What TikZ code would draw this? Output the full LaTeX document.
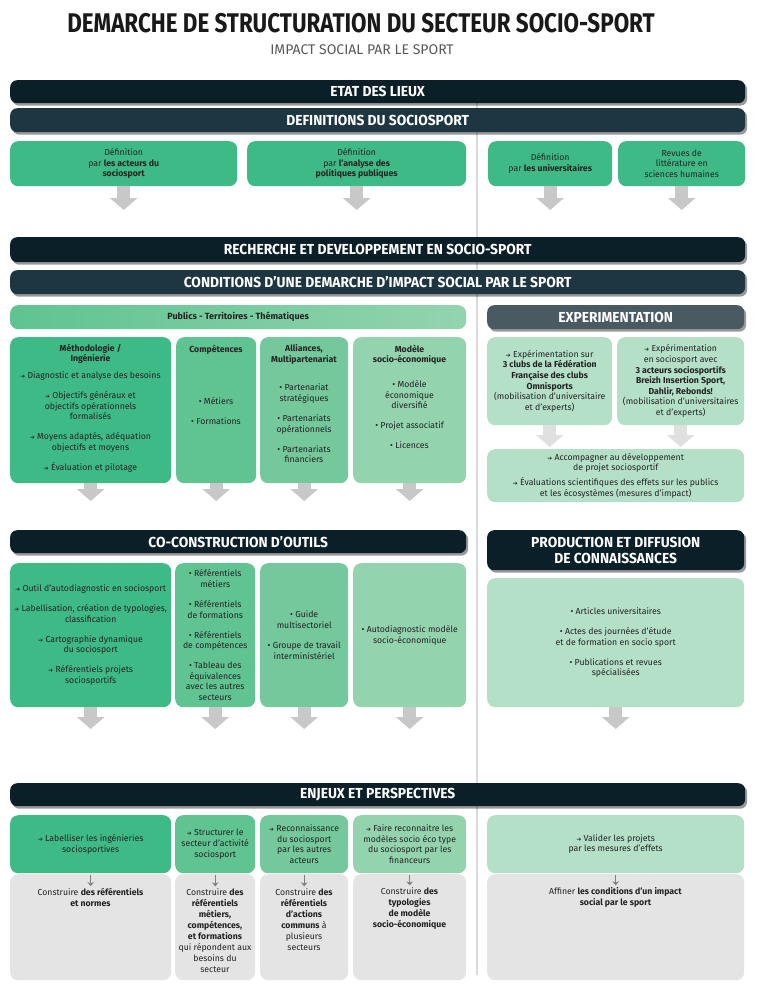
\documentclass[tikz,border=0pt]{standalone}
\usepackage{fontspec}
\setmainfont{Fira Sans}
\newfontfamily\titlefont{Fira Sans}[FakeStretch=0.83]
\newfontfamily\barfont{Fira Sans}[FakeStretch=0.95]
\newfontfamily\symfont{DejaVu Sans}
\usetikzlibrary{positioning,arrows.meta,shadows,calc}

\definecolor{navy}{HTML}{0A1F27}
\definecolor{slate}{HTML}{1D3641}
\definecolor{expe}{HTML}{4A5A63}
\definecolor{gA}{HTML}{3DBA85}
\definecolor{gB}{HTML}{5FC392}
\definecolor{gC}{HTML}{74C89B}
\definecolor{gD}{HTML}{93D4AE}
\definecolor{gL}{HTML}{B5E0C8}
\definecolor{greybox}{HTML}{E4E4E4}
\definecolor{arrgrey}{HTML}{C8C8C8}
\definecolor{arrlight}{HTML}{E0E0E0}
\definecolor{ink}{HTML}{222222}

\newcommand{\arw}{{\symfont\fontsize{5.8}{6}\selectfont ➔}\space}

\tikzset{
  bar/.style={fill=navy, rounded corners=7pt, text=white, align=center, inner sep=0pt,
    font=\barfont\bfseries\fontsize{14.5}{16}\selectfont,
    drop shadow={shadow xshift=2pt, shadow yshift=-2.5pt, fill=black, opacity=0.4}},
  cellbox/.style={rounded corners=8pt, inner sep=0pt, align=center, text=ink,
    font=\fontsize{8.7}{10.6}\selectfont},
  txt/.style={align=center, inner sep=0pt, text=ink, font=\fontsize{8.7}{10.6}\selectfont},
  bigarr/.style={draw=arrgrey, line width=13pt, -{Triangle[width=27pt,length=12pt]}},
  smallarr/.style={draw=black!50, line width=1.2pt, -{Stealth[length=4pt,width=6.5pt]}},
  sepline/.style={draw=black!15, line width=1.5pt},
}

\begin{document}
\begin{tikzpicture}[x=1pt,y=-1pt]
\useasboundingbox[fill=white] (0,0) rectangle (768,996);

\draw[sepline] (477,103) -- (477,975);

\node[font=\titlefont\bfseries\fontsize{27}{27}\selectfont, text=black!90] (titre) at (361,23) {DEMARCHE DE STRUCTURATION DU SECTEUR SOCIO-SPORT};
\node[font=\fontsize{14}{14}\selectfont, text=black!65] (soustitre) at (362,50) {IMPACT SOCIAL PAR LE SPORT};

% etat des lieux
\node[bar, minimum width=735, minimum height=23, anchor=north west] (etat) at (10,80) {ETAT DES LIEUX};
\node[bar, fill=slate, minimum width=735, minimum height=24, anchor=north west] (defs) at (10,108) {DEFINITIONS DU SOCIOSPORT};

\node[cellbox, fill=gA, minimum width=227, minimum height=45, anchor=north west] (defacteurs) at (10,141) {Définition\\ par \textbf{les acteurs du}\\ \textbf{sociosport}};
\node[cellbox, fill=gA, minimum width=219, minimum height=45, anchor=north west] (defpolitiques) at (247,141) {Définition\\ par \textbf{l’analyse des}\\ \textbf{politiques publiques}};
\node[cellbox, fill=gA, minimum width=124, minimum height=45, anchor=north west] (defuniv) at (488,141) {Définition\\ par \textbf{les universitaires}};
\node[cellbox, fill=gA, minimum width=127, minimum height=45, anchor=north west] (revues) at (618,141) {Revues de\\ littérature en\\ sciences humaines};

% recherche et developpement
\node[bar, minimum width=735, minimum height=25, anchor=north west] (recherche) at (10,237) {RECHERCHE ET DEVELOPPEMENT EN SOCIO-SPORT};
\node[bar, fill=slate, minimum width=735, minimum height=24, anchor=north west] (conditions) at (10,270) {CONDITIONS D’UNE DEMARCHE D’IMPACT SOCIAL PAR LE SPORT};

\draw[bigarr, shorten >=27pt] (defacteurs.south) -- (defacteurs.south |- recherche.north);
\draw[bigarr, shorten >=27pt] (defpolitiques.south) -- (defpolitiques.south |- recherche.north);
\draw[bigarr, shorten >=27pt] (defuniv.south) -- (defuniv.south |- recherche.north);
\draw[bigarr, shorten >=27pt] (revues.south) -- (revues.south |- recherche.north);

\node[cellbox, left color=gB, right color=gD, minimum width=456, minimum height=24, anchor=north west, font=\bfseries\fontsize{9}{10}\selectfont] (publics) at (10,305) {Publics - Territoires - Thématiques};
\node[bar, fill=expe, minimum width=257, minimum height=24, anchor=north west] (experimentation) at (487,305) {EXPERIMENTATION};

\node[cellbox, fill=gA, minimum width=161, minimum height=146, anchor=north west] (methodo) at (10,337) {};
\node[cellbox, fill=gB, minimum width=80, minimum height=146, anchor=north west] (competences) at (176,337) {};
\node[cellbox, fill=gC, minimum width=88, minimum height=146, anchor=north west] (alliances) at (260,337) {};
\node[cellbox, fill=gD, minimum width=113, minimum height=146, anchor=north west] (modele) at (353,337) {};

\node[txt] (methodo-t) at (90.5,408) {\textbf{Méthodologie /}\\ \textbf{Ingénierie}\\[6.4pt] \arw Diagnostic et analyse des besoins\\[9.4pt] \arw Objectifs généraux et\\ objectifs opérationnels\\ formalisés\\[9.4pt] \arw Moyens adaptés, adéquation\\ objectifs et moyens\\[9.4pt] \arw Évaluation et pilotage};
\node[txt] (competences-t) at (216,385) {\textbf{Compétences}\\[41.4pt] • Métiers\\[9.4pt] • Formations};
\node[txt] (alliances-t) at (304,404) {\textbf{Alliances,}\\ \textbf{Multipartenariat}\\[17.4pt] • Partenariat\\ stratégiques\\[10pt] • Partenariats\\ opérationnels\\[9.4pt] • Partenariats\\ financiers};
\node[txt] (modele-t) at (409.5,397) {\textbf{Modèle}\\ \textbf{socio-économique}\\[14.4pt] • Modèle\\ économique\\ diversifié\\[9.4pt] • Projet associatif\\[9.4pt] • Licences};

\node[cellbox, fill=gL, minimum width=125, minimum height=88, anchor=north west] (exp-clubs) at (487,337) {\arw Expérimentation sur\\ \textbf{3 clubs de la Fédération}\\ \textbf{Française des clubs}\\ \textbf{Omnisports}\\ (mobilisation d’universitaire\\ et d’experts)};
\node[cellbox, fill=gL, minimum width=127, minimum height=88, anchor=north west] (exp-acteurs) at (617,337) {\arw Expérimentation\\ en sociosport avec\\ \textbf{3 acteurs sociosportifs}\\ \textbf{Breizh Insertion Sport,}\\ \textbf{Dahlir, Rebonds!}\\ (mobilisation d’universitaires\\ et d’experts)};
\node[cellbox, fill=gL, minimum width=257, minimum height=53, anchor=north west] (accompagner) at (487,449) {\arw Accompagner au développement\\ de projet sociosportif\\[4.4pt] \arw Évaluations scientifiques des effets sur les publics\\ et les écosystèmes (mesures d’impact)};

\draw[bigarr, draw=arrlight, shorten >=2pt] (exp-clubs.south) -- (exp-clubs.south |- accompagner.north);
\draw[bigarr, draw=arrlight, shorten >=2pt] (exp-acteurs.south) -- (exp-acteurs.south |- accompagner.north);

% co-construction
\node[bar, minimum width=456, minimum height=23, anchor=north west] (outils) at (10,530) {CO-CONSTRUCTION D’OUTILS};
\node[bar, minimum width=257, minimum height=40, anchor=north west] (production) at (487,530) {PRODUCTION ET DIFFUSION\\ DE CONNAISSANCES};

\draw[bigarr, shorten >=29pt] (methodo.south) -- (methodo.south |- outils.north);
\draw[bigarr, shorten >=29pt] (competences.south) -- (competences.south |- outils.north);
\draw[bigarr, shorten >=29pt] (alliances.south) -- (alliances.south |- outils.north);
\draw[bigarr, shorten >=29pt] (modele.south) -- (modele.south |- outils.north);

\node[cellbox, fill=gA, minimum width=161, minimum height=144, anchor=north west] (outil-diag) at (10,563) {\arw Outil d’autodiagnostic en sociosport\\[9.4pt] \arw Labellisation, création de typologies,\\ classification\\[9.4pt] \arw Cartographie dynamique\\ du sociosport\\[9.4pt] \arw Référentiels projets\\ sociosportifs};
\node[cellbox, fill=gB, minimum width=80, minimum height=144, anchor=north west] (outil-ref) at (175,563) {• Référentiels\\ métiers\\[9.4pt] • Référentiels\\ de formations\\[9.4pt] • Référentiels\\ de compétences\\[9.4pt] • Tableau des\\ équivalences\\ avec les autres\\ secteurs};
\node[cellbox, fill=gC, minimum width=88, minimum height=144, anchor=north west] (outil-guide) at (260,563) {• Guide\\ multisectoriel\\[9.4pt] • Groupe de travail\\ interministériel};
\node[cellbox, fill=gD, minimum width=113, minimum height=144, anchor=north west] (outil-auto) at (353,563) {• Autodiagnostic modèle\\ socio-économique};
\node[cellbox, fill=gL, minimum width=257, minimum height=129, anchor=north west] (articles) at (487,578) {• Articles universitaires\\[9.4pt] • Actes des journées d’étude\\ et de formation en socio sport\\[9.4pt] • Publications et revues\\ spécialisées};

% enjeux
\node[bar, minimum width=735, minimum height=23, anchor=north west] (enjeux) at (10,783) {ENJEUX ET PERSPECTIVES};

\draw[bigarr, shorten >=54pt] (outil-diag.south) -- (outil-diag.south |- enjeux.north);
\draw[bigarr, shorten >=54pt] (outil-ref.south) -- (outil-ref.south |- enjeux.north);
\draw[bigarr, shorten >=54pt] (outil-guide.south) -- (outil-guide.south |- enjeux.north);
\draw[bigarr, shorten >=54pt] (outil-auto.south) -- (outil-auto.south |- enjeux.north);
\draw[bigarr, shorten >=54pt] (articles.south) -- (articles.south |- enjeux.north);

\node[cellbox, fill=greybox, minimum width=161, minimum height=106, anchor=north west] (construire-normes) at (10,874) {};
\node[cellbox, fill=greybox, minimum width=80, minimum height=106, anchor=north west] (construire-metiers) at (175,874) {};
\node[cellbox, fill=greybox, minimum width=88, minimum height=106, anchor=north west] (construire-actions) at (260,874) {};
\node[cellbox, fill=greybox, minimum width=113, minimum height=106, anchor=north west] (construire-typo) at (353,874) {};
\node[cellbox, fill=greybox, minimum width=257, minimum height=106, anchor=north west] (affiner) at (487,874) {};

\node[cellbox, fill=gA, minimum width=161, minimum height=58, anchor=north west] (labelliser) at (10,815) {\arw Labelliser les ingénieries\\ sociosportives};
\node[cellbox, fill=gB, minimum width=80, minimum height=58, anchor=north west] (structurer) at (175,815) {\arw Structurer le\\ secteur d’activité\\ sociosport};
\node[cellbox, fill=gC, minimum width=88, minimum height=58, anchor=north west] (reconnaissance) at (260,815) {\arw Reconnaissance\\ du sociosport\\ par les autres\\ acteurs};
\node[cellbox, fill=gD, minimum width=113, minimum height=58, anchor=north west] (faire) at (353,815) {\arw Faire reconnaitre les\\ modèles socio éco type\\ du sociosport par les\\ financeurs};
\node[cellbox, fill=gL, minimum width=257, minimum height=58, anchor=north west] (valider) at (487,815) {\arw Valider les projets\\ par les mesures d’effets};

\node[txt, font=\fontsize{8.7}{11}\selectfont] (normes-t) at (90.5,897.5) {Construire \textbf{des référentiels}\\ \textbf{et normes}};
\node[txt, font=\fontsize{8.7}{11}\selectfont] (metiers-t) at (215,930.5) {Construire \textbf{des}\\ \textbf{référentiels}\\ \textbf{métiers,}\\ \textbf{compétences,}\\ \textbf{et formations}\\ qui répondent aux\\ besoins du\\ secteur};
\node[txt, font=\fontsize{8.7}{11}\selectfont] (actions-t) at (304,919.5) {Construire \textbf{des}\\ \textbf{référentiels}\\ \textbf{d’actions}\\ \textbf{communs} à\\ plusieurs\\ secteurs};
\node[txt, font=\fontsize{8.7}{11}\selectfont] (typo-t) at (409.5,908.5) {Construire \textbf{des}\\ \textbf{typologies}\\ \textbf{de modèle}\\ \textbf{socio-économique}};
\node[txt, font=\fontsize{8.7}{11}\selectfont] (affiner-t) at (615.5,897.5) {Affiner \textbf{les conditions d’un impact}\\ \textbf{social par le sport}};

\draw[smallarr, shorten <=2pt, shorten >=2pt] (labelliser.south) -- (labelliser.south |- normes-t.north);
\draw[smallarr, shorten <=2pt, shorten >=2pt] (structurer.south) -- (structurer.south |- metiers-t.north);
\draw[smallarr, shorten <=2pt, shorten >=2pt] (reconnaissance.south) -- (reconnaissance.south |- actions-t.north);
\draw[smallarr, shorten <=2pt, shorten >=2pt] (faire.south) -- (faire.south |- typo-t.north);
\draw[smallarr, shorten <=2pt, shorten >=2pt] (valider.south) -- (valider.south |- affiner-t.north);
\end{tikzpicture}
\end{document}
